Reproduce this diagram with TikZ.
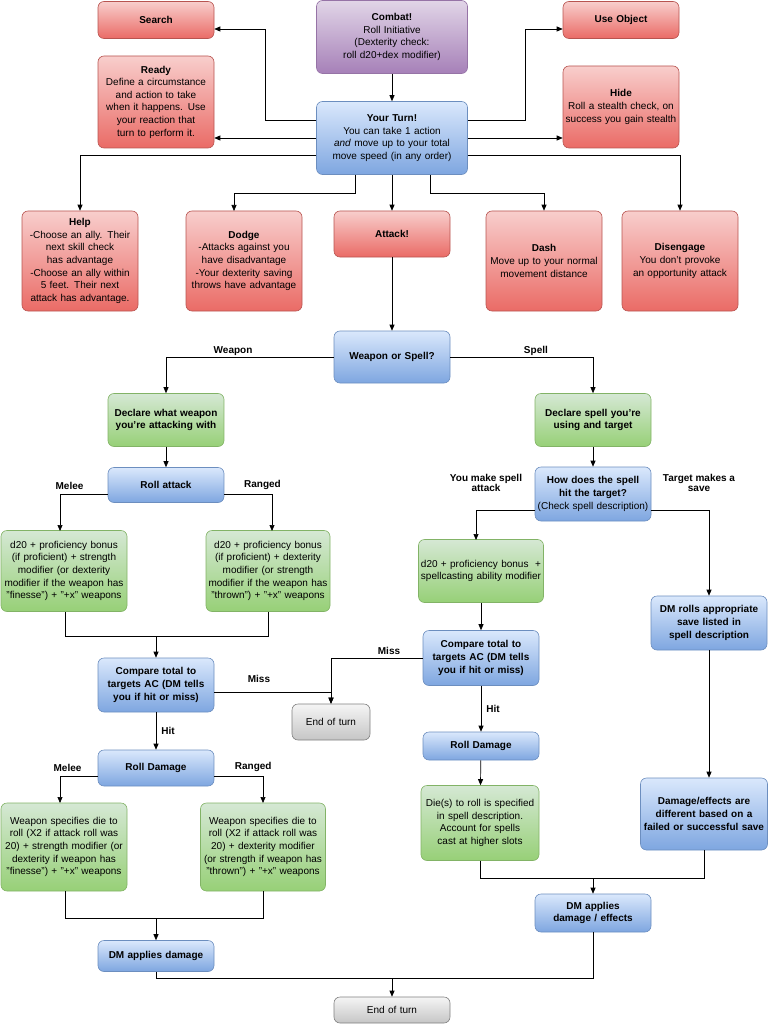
\documentclass[tikz,border=0pt]{standalone}
\usepackage{fontspec}
\setmainfont{Liberation Sans}
\usetikzlibrary{arrows.meta}
\definecolor{rT}{HTML}{F8CECC}\definecolor{rB}{HTML}{EA6B66}\definecolor{rD}{HTML}{B85450}
\definecolor{bT}{HTML}{DAE8FC}\definecolor{bB}{HTML}{7EA6E0}\definecolor{bD}{HTML}{6C8EBF}
\definecolor{gT}{HTML}{D5E8D4}\definecolor{gB}{HTML}{97D077}\definecolor{gD}{HTML}{82B366}
\definecolor{pT}{HTML}{E1D5E7}\definecolor{pB}{HTML}{A680B8}\definecolor{pD}{HTML}{9673A6}
\begin{document}
\hyphenpenalty=10000 \exhyphenpenalty=10000
\begin{tikzpicture}[x=1pt,y=-1pt,
 box/.style={draw,rounded corners=6pt,align=center,inner sep=0pt,font=\fontsize{10}{12.6}\selectfont,line width=0.6pt},
 red/.style={box,draw=rD,top color=rT,bottom color=rB},
 blu/.style={box,draw=bD,top color=bT,bottom color=bB},
 grn/.style={box,draw=gD,top color=gT,bottom color=gB},
 pur/.style={box,draw=pD,top color=pT,bottom color=pB},
 gry/.style={box,draw=gray,top color=gray!8,bottom color=gray!45},
 arr/.style={-{Triangle[length=6pt,width=5pt]},line width=0.7pt},
 ln/.style={line width=0.7pt},
 lab/.style={font=\fontsize{10}{10.5}\selectfont\bfseries,align=center,inner sep=1pt}]
\useasboundingbox (0,0) rectangle (768,1024);
\tikzset{sz/.style 2 args={minimum width=#1,minimum height=#2,text width=#1-2}}
\node[red,sz={116}{37}] (search) at (156,20) {\textbf{Search}};
\node[pur,sz={151}{73}] (combat) at (392,37) {\textbf{Combat!}\\Roll Initiative\\(Dexterity check:\\roll d20+dex modifier)};
\node[red,sz={116}{37}] (use) at (621,20) {\textbf{Use Object}};
\node[red,sz={116}{92}] (ready) at (156,102) {\textbf{Ready}\\Define a circumstance and action to take when it happens. Use your reaction that turn to perform it.};
\node[blu,sz={151}{73}] (turn) at (392,138) {\textbf{Your Turn!}\\You can take 1 action \textit{and} move up to your total move speed (in any order)};
\node[red,sz={116}{82}] (hide) at (621,107) {\textbf{Hide}\\Roll a stealth check, on success you gain stealth};
\node[red,sz={116}{100}] (help) at (80,261) {\textbf{Help}\\-Choose an ally. Their next skill check has advantage\\-Choose an ally within 5 feet. Their next attack has advantage.};
\node[red,sz={116}{100}] (dodge) at (244,261) {\textbf{Dodge}\\-Attacks against you have disadvantage\\-Your dexterity saving throws have advantage};
\node[red,sz={116}{46}] (attack) at (392,234) {\textbf{Attack!}};
\node[red,sz={116}{100}] (dash) at (544,261) {\textbf{Dash}\\Move up to your normal movement distance};
\node[red,sz={116}{100}] (dis) at (680,261) {\textbf{Disengage}\\You don't provoke an opportunity attack};
\node[blu,sz={116}{52}] (wos) at (392,357) {\textbf{Weapon or Spell?}};
\node[grn,sz={116}{53}] (decw) at (166,420) {\textbf{Declare what weapon you're attacking with}};
\node[grn,sz={116}{53}] (decs) at (593,420) {\textbf{Declare spell you're using and target}};
\node[blu,sz={116}{35}] (roll) at (166,485) {\textbf{Roll attack}};
\node[blu,sz={116}{54}] (how) at (593,494) {\textbf{How does the spell hit the target?}\\(Check spell description)};
\node[grn,sz={126}{81}] (dm) at (64,571) {d20 + proficiency bonus (if proficient) + strength modifier (or dexterity modifier if the weapon has ''finesse'') + ''+x'' weapons};
\node[grn,sz={124}{81}] (dr) at (268,571) {d20 + proficiency bonus (if proficient) + dexterity modifier (or strength modifier if the weapon has ''thrown'') + ''+x'' weapons};
\node[grn,sz={125}{63}] (ds) at (481,571) {d20 + proficiency bonus~ + spellcasting ability modifier};
\node[blu,sz={116}{54}] (save) at (709,623) {\textbf{DM rolls appropriate save listed in spell description}};
\node[blu,sz={116}{54}] (cmpl) at (156,685) {\textbf{Compare total to targets AC (DM tells you if hit or miss)}};
\node[gry,sz={78}{36}] (eot1) at (331,722) {End of turn};
\node[blu,sz={116}{55}] (cmpr) at (481,658) {\textbf{Compare total to targets AC (DM tells you if hit or miss)}};
\node[blu,sz={116}{36}] (rdl) at (156,768) {\textbf{Roll Damage}};
\node[blu,sz={116}{28}] (rdr) at (481,746) {\textbf{Roll Damage}};
\node[grn,sz={126}{88}] (wm) at (64,847) {Weapon specifies die to roll (X2 if attack roll was 20) + strength modifier (or dexterity if weapon has ''finesse'') + ''+x'' weapons};
\node[grn,sz={125}{88}] (wr) at (263,847) {Weapon specifies die to roll (X2 if attack roll was 20) + dexterity modifier (or strength if weapon has ''thrown'') + ''+x'' weapons};
\node[grn,sz={118}{75}] (die) at (480,823) {Die(s) to roll is specified in spell description. Account for spells cast at higher slots};
\node[blu,sz={127}{72}] (eff) at (704,814) {\textbf{Damage/effects are different based on a failed or successful save}};
\node[blu,sz={116}{31}] (dmal) at (156,956) {\textbf{DM applies damage}};
\node[blu,sz={116}{38}] (dmar) at (593,913) {\textbf{DM applies damage / effects}};
\node[gry,sz={116}{26}] (eot2) at (392,1010) {End of turn};
% top connectors
\draw[arr] (combat) -- (turn);
\draw[arr] (turn.west|-0,120) -| (265,29) -- (search.east|-0,29);
\draw[arr] (turn.west|-0,138) -- (ready.east|-0,138);
\draw[arr] (turn.west|-0,155) -| (help.north);
\draw[arr] (turn.east|-0,120) -| (525,29) -- (use.west|-0,29);
\draw[arr] (turn.east|-0,138) -- (hide.west|-0,138);
\draw[arr] (turn.east|-0,155) -| (dis.north);
\draw[arr] (355,175) |- (234,193) -- (234,211);
\draw[arr] (turn) -- (attack);
\draw[arr] (430,175) |- (544,193) -- (dash.north);
\draw[arr] (attack) -- (wos);
\draw[arr] (wos.west) -| (decw.north) node[lab,pos=0.3,above] {Weapon};
\draw[arr] (wos.east) -| (decs.north) node[lab,pos=0.3,above] {Spell};
\draw[arr] (decw) -- (roll);
\draw[arr] (decs) -- (how);
\draw[arr] (roll.west|-0,494) -| (60,531) node[lab,pos=0.4,above=3pt] {Melee};
\draw[arr] (roll.east|-0,494) -| (272,531) node[lab,pos=0.4,above=3pt] {Ranged};
\draw[ln] (65,612) |- (268,636) -- (268,612);
\coordinate (j1) at (156,636);
\draw[arr] (j1) -- (cmpl);
\draw[arr] (how.west|-0,510) -| (476,540);
\node[lab] at (486,483) {You make spell\\attack};
\draw[arr] (how.east|-0,510) -| (save.north);
\node[lab] at (699,483) {Target makes a\\save};
\draw[arr] (ds) -- (cmpr);
\draw[arr] (cmpl.east|-0,692) -| (eot1.north);
\node[lab] at (259,679) {Miss};
\draw[arr] (cmpr.west|-0,658) -| (eot1.north);
\node[lab] at (389,651) {Miss};
\draw[arr] (cmpl) -- (rdl) node[lab,midway,right=4pt] {Hit};
\draw[arr] (cmpr) -- (rdr) node[lab,midway,right=4pt] {Hit};
\draw[arr] (rdl.west|-0,776) -| (60,803) node[lab,pos=0.4,above=3pt] {Melee};
\draw[arr] (rdl.east|-0,776) -| (263,803) node[lab,pos=0.4,above=3pt] {Ranged};
\draw[ln] (65,891) |- (263,918) -- (263,891);
\coordinate (j2) at (156,918);
\draw[arr] (j2) -- (dmal);
\draw[arr] (rdr) -- (die);
\draw[arr] (save) -- (eff.north-|save);
\draw[ln] (die.south) |- (704,878) -- (eff.south-|704,0);
\coordinate (j3) at (593,878);
\draw[arr] (j3) -- (dmar);
\draw[ln] (dmal.south) |- (593,978) -- (dmar.south);
\coordinate (j4) at (392,978);
\draw[arr] (j4) -- (eot2);
\end{tikzpicture}
\end{document}
